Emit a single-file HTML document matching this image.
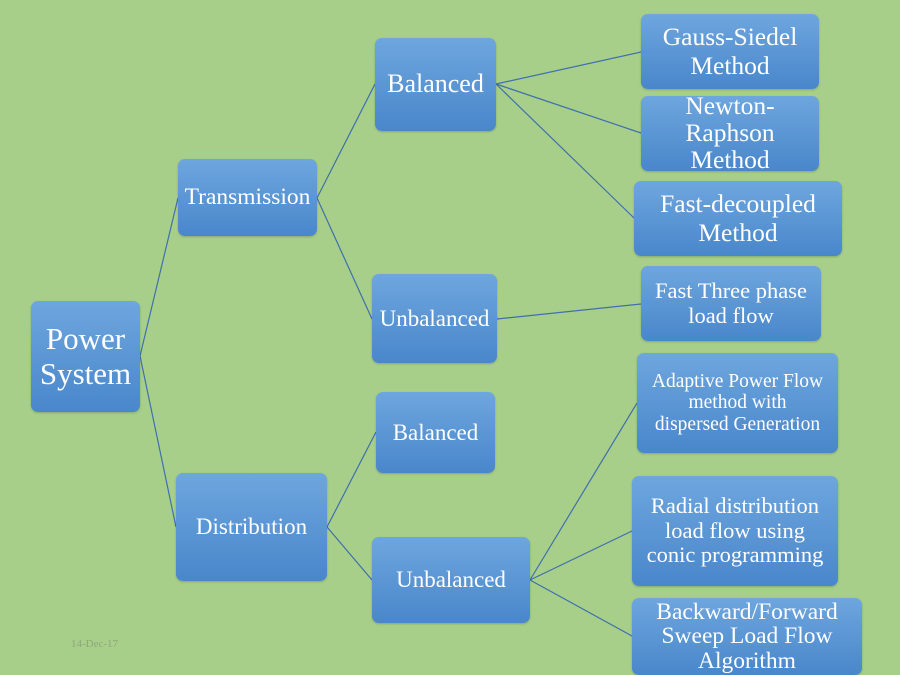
<!DOCTYPE html>
<html><head><meta charset="utf-8"><style>
html,body{margin:0;padding:0}
body{width:900px;height:675px;background:#a7cf8a;position:relative;overflow:hidden;font-family:"Liberation Serif",serif}
.b{position:absolute;box-sizing:border-box;border-radius:7px;background:linear-gradient(#6ea6de,#4987cb);color:#fff;display:flex;align-items:center;justify-content:center;text-align:center;line-height:1.1;box-shadow:0 1px 2px rgba(0,0,0,.2);white-space:nowrap}
svg{position:absolute;left:0;top:0}
</style></head><body>
<svg width="900" height="675"><g stroke="#3f6fae" stroke-width="1.2" fill="none">
<line x1="140" y1="356" x2="178" y2="198"/><line x1="140" y1="356" x2="176" y2="527"/>
<line x1="317" y1="198" x2="375" y2="84"/><line x1="317" y1="198" x2="372" y2="319"/>
<line x1="327" y1="527" x2="376" y2="432"/><line x1="327" y1="527" x2="372" y2="580"/>
<line x1="496" y1="84" x2="641" y2="52"/><line x1="496" y1="84" x2="641" y2="133"/><line x1="496" y1="84" x2="634" y2="218"/>
<line x1="497" y1="319" x2="641" y2="304"/>
<line x1="530" y1="580" x2="637" y2="403"/><line x1="530" y1="580" x2="632" y2="531"/><line x1="530" y1="580" x2="632" y2="636"/>
</g></svg>
<div class="b" style="left:31px;top:301px;width:109px;height:111px;font-size:31px">Power<br>System</div>
<div class="b" style="left:178px;top:159px;width:139px;height:77px;font-size:23.5px">Transmission</div>
<div class="b" style="left:176px;top:473px;width:151px;height:108px;font-size:23px">Distribution</div>
<div class="b" style="left:375px;top:38px;width:121px;height:93px;font-size:26px">Balanced</div>
<div class="b" style="left:372px;top:274px;width:125px;height:89px;font-size:23px">Unbalanced</div>
<div class="b" style="left:376px;top:392px;width:119px;height:81px;font-size:23px">Balanced</div>
<div class="b" style="left:372px;top:537px;width:158px;height:86px;font-size:23px">Unbalanced</div>
<div class="b" style="left:641px;top:14px;width:178px;height:75px;font-size:25.5px">Gauss-Siedel<br>Method</div>
<div class="b" style="left:641px;top:96px;width:178px;height:75px;font-size:25.5px;line-height:1.05">Newton-<br>Raphson<br>Method</div>
<div class="b" style="left:634px;top:181px;width:208px;height:75px;font-size:25.5px">Fast-decoupled<br>Method</div>
<div class="b" style="left:641px;top:266px;width:180px;height:75px;font-size:22.5px">Fast Three phase<br>load flow</div>
<div class="b" style="left:637px;top:353px;width:201px;height:100px;font-size:19.5px">Adaptive Power Flow<br>method with<br>dispersed Generation</div>
<div class="b" style="left:632px;top:476px;width:206px;height:110px;font-size:22.5px">Radial distribution<br>load flow using<br>conic programming</div>
<div class="b" style="left:632px;top:598px;width:230px;height:77px;font-size:23.5px;line-height:1.03">Backward/Forward<br>Sweep Load Flow<br>Algorithm</div>
<div style="position:absolute;left:71px;top:638px;font-size:11px;color:#8aa87a">14-Dec-17</div>
</body></html>
